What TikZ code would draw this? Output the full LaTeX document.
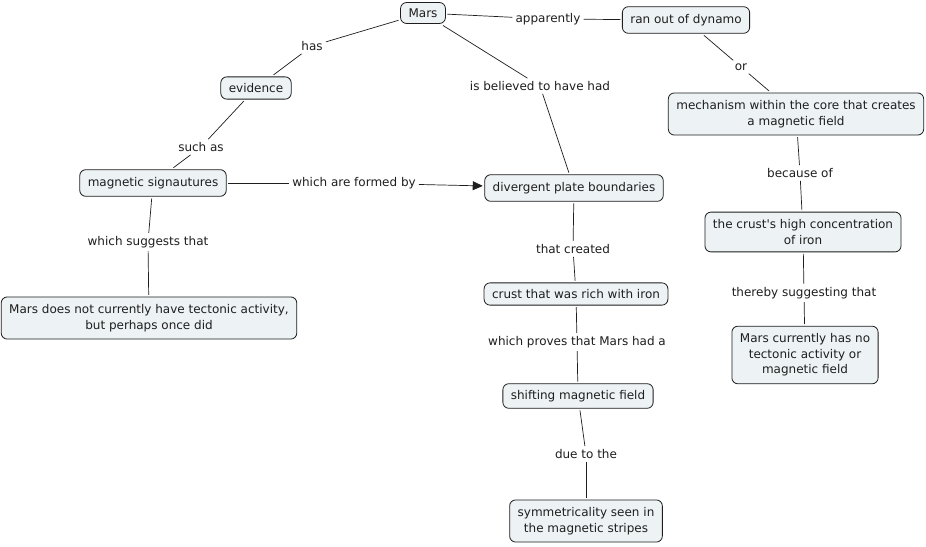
\documentclass[tikz,border=0pt]{standalone}
\usepackage{fontspec}
\setmainfont{DejaVu Sans}[Ligatures=TeXOff]
\usetikzlibrary{arrows.meta}
\definecolor{cfill}{HTML}{EDF2F5}
\definecolor{ctext}{HTML}{1E1E1E}
\tikzset{
  concept/.style={draw=ctext, fill=cfill, rounded corners=6pt, line width=0.8pt,
    inner xsep=8pt, inner ysep=7.5pt, align=center, outer sep=2pt,
    font=\fontsize{12}{15.5}\selectfont, text=ctext},
  lbl/.style={inner sep=3pt, font=\fontsize{12}{15}\selectfont, text=ctext},
  conn/.style={draw=ctext, line width=0.7pt},
}
\begin{document}
\begin{tikzpicture}[x=1pt,y=-1pt]
\useasboundingbox[fill=white] (0,0) rectangle (926,546);
% concepts
\node[concept, inner ysep=6pt] (mars) at (423,13) {Mars};
\node[concept] (dyn) at (686,20) {ran out of dynamo};
\node[concept, inner ysep=6.5pt] (evid) at (256,88) {evidence};
\node[concept] (mech) at (796,114) {mechanism within the core that creates\\a magnetic field};
\node[concept] (msig) at (153,183) {magnetic signautures};
\node[concept] (div) at (574,188) {divergent plate boundaries};
\node[concept] (conc) at (803,232) {the crust's high concentration\\of iron};
\node[concept] (notnow) at (149,318) {Mars does not currently have tectonic activity,\\but perhaps once did};
\node[concept, inner ysep=6.5pt] (crust) at (576,294) {crust that was rich with iron};
\node[concept] (nomag) at (805,355) {Mars currently has no\\tectonic activity or\\magnetic field};
\node[concept, inner ysep=6.5pt] (shift) at (578,396) {shifting magnetic field};
\node[concept] (sym) at (586,521) {symmetricality seen in\\the magnetic stripes};
% labels
\node[lbl] (lapp) at (548,19) {apparently};
\node[lbl] (lhas) at (312,46) {has};
\node[lbl] (lbel) at (540,86) {is believed to have had};
\node[lbl] (lor) at (741,67) {or};
\node[lbl] (lsuch) at (201,147) {such as};
\node[lbl] (lform) at (354,183) {which are formed by};
\node[lbl] (lbec) at (800,173) {because of};
\node[lbl] (lsug) at (148,242) {which suggests that};
\node[lbl] (lcre) at (573,249) {that created};
\node[lbl] (lthe) at (804,293) {thereby suggesting that};
\node[lbl] (lpro) at (577,342) {which proves that Mars had a};
\node[lbl] (ldue) at (586,454) {due to the};
% connectors
\draw[conn] (mars) -- (lapp);
\draw[conn] (lapp) -- (dyn);
\draw[conn] (mars) -- (lhas);
\draw[conn] (lhas) -- (evid);
\draw[conn] (mars) -- (lbel);
\draw[conn] (lbel) -- (div);
\draw[conn] (dyn) -- (lor);
\draw[conn] (lor) -- (mech);
\draw[conn] (evid) -- (lsuch);
\draw[conn] (lsuch) -- (msig);
\draw[conn] (msig) -- (lform);
\draw[conn, -{Triangle[length=10pt,width=9pt]}] (lform) -- (div);
\draw[conn] (mech) -- (lbec);
\draw[conn] (lbec) -- (conc);
\draw[conn] (msig) -- (lsug);
\draw[conn] (lsug) -- (notnow);
\draw[conn] (div) -- (lcre);
\draw[conn] (lcre) -- (crust);
\draw[conn] (conc) -- (lthe);
\draw[conn] (lthe) -- (nomag);
\draw[conn] (crust) -- (lpro);
\draw[conn] (lpro) -- (shift);
\draw[conn] (shift) -- (ldue);
\draw[conn] (ldue) -- (sym);
\end{tikzpicture}
\end{document}
